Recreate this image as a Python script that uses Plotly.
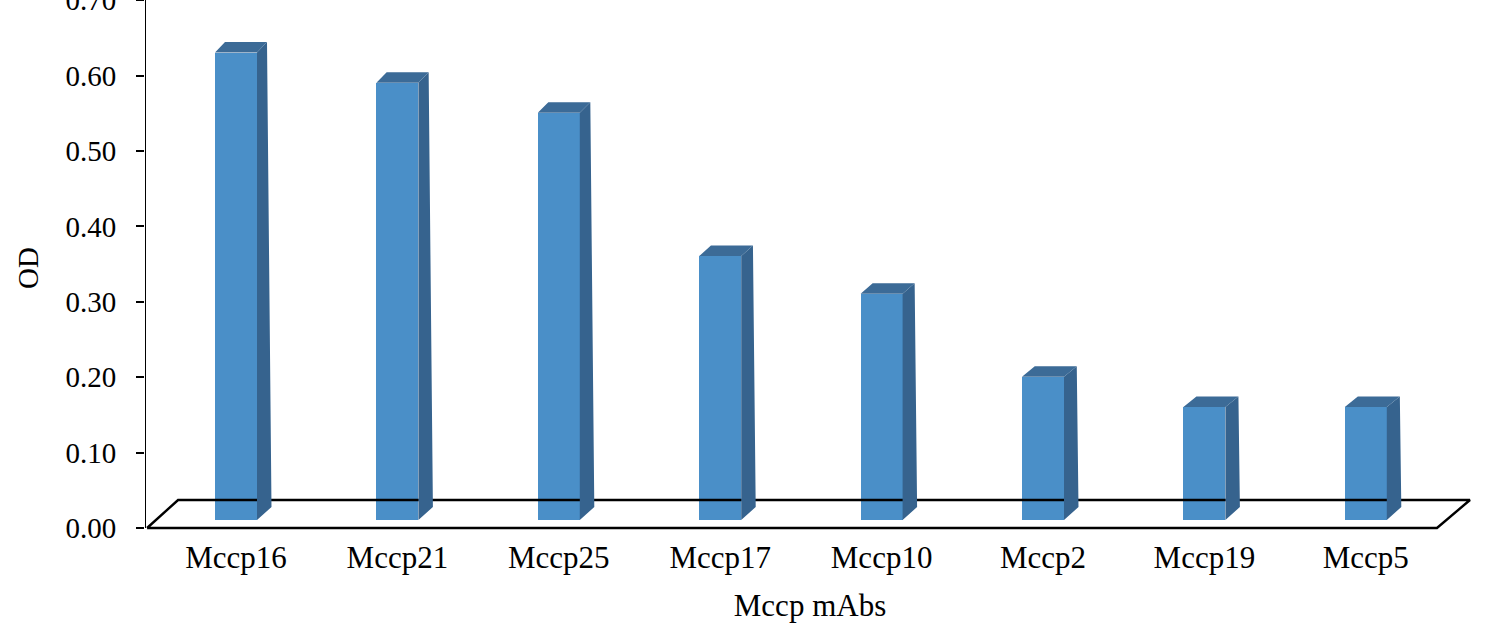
import plotly.graph_objects as go

# ---- data ----
categories = ["Mccp16", "Mccp21", "Mccp25", "Mccp17", "Mccp10", "Mccp2", "Mccp19", "Mccp5"]
od_values = [0.62, 0.58, 0.54, 0.35, 0.30, 0.19, 0.15, 0.15]
y_ticks = [0.0, 0.1, 0.2, 0.3, 0.4, 0.5, 0.6, 0.7]

# ---- geometry (pixel-based styling converted into axis units) ----
W, H = 1512, 643
L, R, T, B = 145, 37, 0, 107
plot_w = W - L - R
plot_h = H - T - B
x0_px, step_px = 236.0, 161.4
x_range = [(L - x0_px) / step_px, (W - R - x0_px) / step_px]
y_range = [-8 / 754.3, 0.7003]
PXX = step_px
PXY = plot_h / (y_range[1] - y_range[0])

xs = list(range(len(categories)))
half_w = 21 / PXX
b0 = 8 / PXY

front_col = "#4A8FC8"
side_col = "#36638E"
top_col = "#3C6B97"

fig = go.Figure()

# floor
fx = [-0.551, 7.441, 7.441 + 33 / PXX, -0.551 + 31 / PXX, -0.551]
fy = [0, 0, 28 / PXY, 28 / PXY, 0]
fig.add_trace(go.Scatter(x=fx, y=fy, mode="lines", line=dict(color="black", width=2.4),
                         hoverinfo="skip", showlegend=False, cliponaxis=False))

# front faces
fig.add_trace(go.Bar(x=xs, y=od_values, base=[b0] * len(xs), width=2 * half_w,
                     marker=dict(color=front_col, line=dict(width=0)), showlegend=False))

# side and top faces
sx, sy, tx, ty = [], [], [], []
vmax = max(od_values)
for xi, v in zip(xs, od_values):
    xl, xr = xi - half_w, xi + half_w
    yt = b0 + v
    dxt = (14 - 4 * v / vmax) / PXX
    dyt = 10.5 / PXY
    dxb = 14.5 / PXX
    dyb = 13 / PXY
    sx += [xr, xr, xr + dxt, xr + dxb, xr, None]
    sy += [b0, yt, yt + dyt, b0 + dyb, b0, None]
    tx += [xl, xl + dxt, xr + dxt, xr, xl, None]
    ty += [yt, yt + dyt, yt + dyt, yt, yt, None]
fig.add_trace(go.Scatter(x=sx, y=sy, mode="lines", fill="toself", fillcolor=side_col,
                         line=dict(width=0, color=side_col), hoverinfo="skip", showlegend=False))
fig.add_trace(go.Scatter(x=tx, y=ty, mode="lines", fill="toself", fillcolor=top_col,
                         line=dict(width=0, color=top_col), hoverinfo="skip", showlegend=False))

# y axis line from 0 upward
fig.add_trace(go.Scatter(x=[x_range[0], x_range[0]], y=[0, 0.7003], mode="lines",
                         line=dict(color="black", width=2), hoverinfo="skip",
                         showlegend=False, cliponaxis=False))

font = dict(family="Liberation Serif, Times New Roman, serif", color="black")

fig.update_layout(
    width=W, height=H,
    margin=dict(l=L, r=R, t=T, b=B, autoexpand=False),
    paper_bgcolor="white", plot_bgcolor="white",
    font=dict(size=30, **font),
    bargap=0,
    xaxis=dict(range=x_range, tickvals=xs, ticktext=categories, showgrid=False,
               zeroline=False, showline=False, ticks="", ticklabelstandoff=0,
               automargin=False,
               tickfont=dict(size=31, **font),
               title=dict(text="Mccp mAbs", font=dict(size=31, **font), standoff=20)),
    yaxis=dict(range=y_range, tickvals=y_ticks, tickformat=".2f", showgrid=False,
               zeroline=False, showline=False, ticks="outside", ticklen=8,
               tickwidth=2, tickcolor="black", ticklabelstandoff=14,
               ticklabeloverflow="allow", automargin=False,
               tickfont=dict(size=29, **font),
               title=dict(text="OD", font=dict(size=29, **font), standoff=18)),
)

fig.write_html("out.html")
